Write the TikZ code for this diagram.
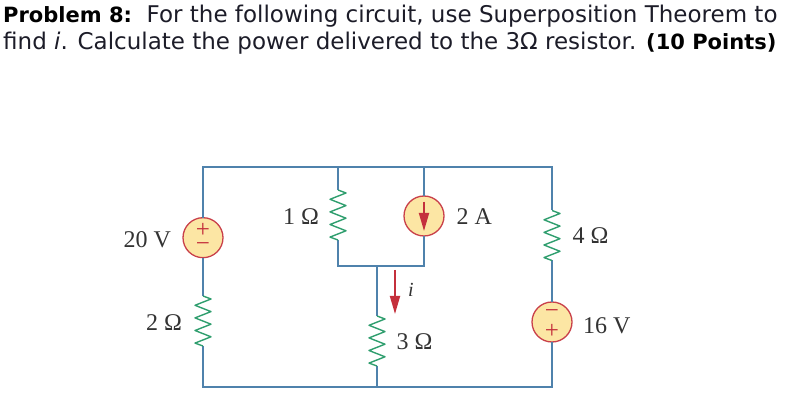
\documentclass[tikz,border=0pt]{standalone}
\usepackage{fontspec}
\setmainfont{Liberation Serif}
\newfontfamily\headfont{DejaVu Sans}
\usetikzlibrary{arrows.meta}
\definecolor{wirec}{HTML}{4F82AC}
\definecolor{resc}{HTML}{2F9E6E}
\definecolor{srcfill}{HTML}{FCE6A4}
\definecolor{srcline}{HTML}{C9404A}
\definecolor{arrowc}{HTML}{C4303C}
\definecolor{labelc}{HTML}{333333}
\definecolor{headc}{HTML}{1C1C28}
\tikzset{
  wire/.style={draw=wirec,line width=1.6pt,line join=miter},
  reswire/.style={draw=resc,line width=1.4pt,line join=round},
  resbox/.style={inner sep=0pt,outer sep=0pt,minimum width=16pt,minimum height=50pt},
  srcbox/.style={circle,draw=srcline,fill=srcfill,line width=1.3pt,inner sep=0pt,outer sep=0pt,minimum size=40pt},
  sign/.style={text=arrowc,inner sep=0pt,font=\fontsize{25}{25}\selectfont},
  val/.style={text=labelc,inner sep=0pt,anchor=base west,font=\fontsize{24}{24}\selectfont},
  headn/.style={text=headc,inner sep=0pt,anchor=base west,font=\headfont\fontsize{23}{23}\selectfont},
  headb/.style={text=black,inner sep=0pt,anchor=base west,font=\headfont\bfseries\fontsize{21}{21}\selectfont},
  redarrow/.style={draw=arrowc,line width=1.8pt,-{Triangle[length=#1,width=10pt,fill=arrowc]}},
}
\newcommand{\zigzag}[1]{\draw[reswire] (#1.north) -- ++(8,3) -- ++(-16,6.3) -- ++(16,6.3) -- ++(-16,6.3) -- ++(16,6.3) -- ++(-16,6.3) -- ++(16,6.3) -- ++(-16,6.3) -- (#1.south);}
\begin{document}
\begin{tikzpicture}[x=1pt,y=-1pt]
\useasboundingbox (0,0) rectangle (793,419);
% heading
\node[headb] (h1) at (3,23) {Problem 8:};
\node[headn] (h2) at (146.5,23) {For the following circuit, use Superposition Theorem to};
\node[headn] (h3) at (3,49.5) {find \textit{i}. Calculate the power delivered to the 3Ω resistor.};
\node[headb] (h4) at (646,49.5) {(10 Points)};
% corners
\coordinate (tl) at (203,167);
\coordinate (tr) at (552,167);
\coordinate (bl) at (203,387);
\coordinate (br) at (552,387);
\coordinate (t1) at (338,167);
\coordinate (t2) at (424,167);
\coordinate (m1) at (338,266);
\coordinate (m2) at (424,266);
\coordinate (mm) at (377,266);
\coordinate (bm) at (377,387);
% elements
\node[resbox] (r2) at (203,321) {};
\node[resbox] (r1) at (338,215) {};
\node[resbox] (r3) at (377,341) {};
\node[resbox] (r4) at (552,235.5) {};
\node[srcbox] (v1) at (203,237.7) {};
\node[srcbox] (is) at (424,216) {};
\node[srcbox] (v2) at (552,322) {};
% wires
\draw[wire] (v1.north) -- (tl) -- (tr) -- (r4.north);
\draw[wire] (r4.south) -- (v2.north);
\draw[wire] (v2.south) -- (br) -- (bl) -- (r2.south);
\draw[wire] (r2.north) -- (v1.south);
\draw[wire] (t1) -- (r1.north);
\draw[wire] (r1.south) -- (m1) -- (m2) -- (is.south);
\draw[wire] (t2) -- (is.north);
\draw[wire] (mm) -- (r3.north);
\draw[wire] (r3.south) -- (bm);
% resistors
\zigzag{r1}\zigzag{r2}\zigzag{r3}\zigzag{r4}
% source marks
\node[sign] (v1p) at (203,230) {+};
\node[sign] (v1m) at (203,247) {−};
\node[sign] (v2m) at (552,314) {−};
\node[sign] (v2p) at (552,331) {+};
\coordinate (isa) at (424,201.7);
\coordinate (isb) at (424,231);
\draw[redarrow=18pt] (isa) -- (isb);
\coordinate (ia) at (395,270);
\coordinate (ib) at (395,314);
\draw[redarrow=18pt] (ia) -- (ib);
% labels
\node[val] (l20) at (123.5,248) {20 V};
\node[val] (l2) at (146,331) {2 Ω};
\node[val] (l1) at (283,225) {1 Ω};
\node[val] (l2a) at (456.5,225) {2 A};
\node[val] (l4) at (572.5,244) {4 Ω};
\node[val] (l3) at (396.5,350) {3 Ω};
\node[val] (l16) at (583,334) {16 V};
\node[val,font=\itshape\fontsize{20}{20}\selectfont] (li) at (408,297) {i};
\end{tikzpicture}
\end{document}
